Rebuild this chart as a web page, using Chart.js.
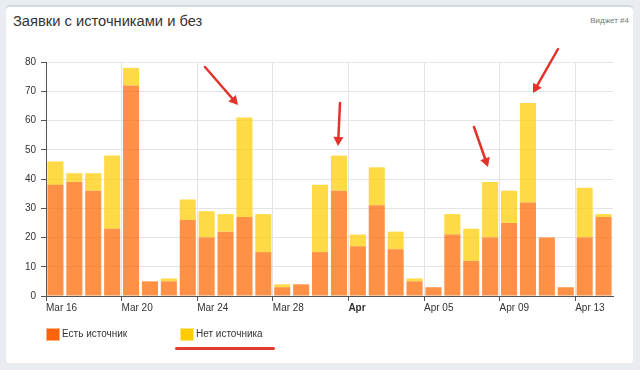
<!DOCTYPE html>
<html>
<head>
<meta charset="utf-8">
<script src="https://cdn.jsdelivr.net/npm/chart.js@4"></script>
<style>
  body { margin: 0; background: #e9edf1; font-family: "Liberation Sans", Arial, sans-serif; }
  #card { position: absolute; left: 6px; top: 7px; width: 627px; height: 356px; background: #fff;
          border-radius: 4px; box-shadow: 0 -2px 0 #d3d9e0; }
  #title { position: absolute; left: 13px; top: 13px; font-size: 14.7px; color: #333; }
  #widget { position: absolute; right: 11px; top: 16px; font-size: 8px; color: #777; }
  #chart { position: absolute; left: 0; top: 0; }
  #legend { position: absolute; left: 0; top: 0; }
  .item { position: absolute; top: 328px; font-size: 10px; color: #333; line-height: 12px; }
  .box { position: absolute; top: 0; width: 12px; height: 11px; border: 1px solid rgba(255,255,255,0.5); }
  .item span { position: absolute; left: 16px; top: 0; white-space: nowrap; }
  #underline { position: absolute; left: 175px; top: 347px; width: 100px; height: 3px;
               border-radius: 2px; background: #e33a32; }
</style>
</head>
<body>
<div id="card"></div>
<div id="title">Заявки с источниками и без</div>
<div id="widget">Виджет #4</div>
<canvas id="chart" width="640" height="370"></canvas>
<div id="legend"></div>
<div id="underline"></div>
<script>
// one bar per day, Mar 16 .. Apr 14
const days = [
  "Mar 16", "Mar 17", "Mar 18", "Mar 19", "Mar 20", "Mar 21", "Mar 22", "Mar 23",
  "Mar 24", "Mar 25", "Mar 26", "Mar 27", "Mar 28", "Mar 29", "Mar 30", "Mar 31",
  "Apr", "Apr 02", "Apr 03", "Apr 04", "Apr 05", "Apr 06", "Apr 07", "Apr 08",
  "Apr 09", "Apr 10", "Apr 11", "Apr 12", "Apr 13", "Apr 14",
];
const withSource = [38, 39, 36, 23, 72, 5, 5, 26, 20, 22, 27, 15, 3, 4, 15, 36, 17, 31, 16, 5, 3, 21, 12, 20, 25, 32, 20, 3, 20, 27];
const noSource = [8, 3, 6, 25, 6, 0, 1, 7, 9, 6, 34, 13, 1, 0, 23, 12, 4, 13, 6, 1, 0, 7, 11, 19, 11, 34, 0, 0, 17, 1];
const seriesNames = ["Есть источник", "Нет источника"];
const yTicks = [0, 10, 20, 30, 40, 50, 60, 70, 80];

const toPoints = (arr) => arr.map((v, i) => ({ x: i + 0.5, y: v }));

// red annotation arrows drawn on top
const arrows = [
  [205, 67, 238, 105],
  [340, 103, 338, 146],
  [474, 127, 488, 167],
  [558, 49, 533, 93],
];
const arrowPlugin = {
  id: "arrows",
  afterDraw(chart) {
    const c = chart.ctx;
    c.save();
    c.strokeStyle = "#e2332b";
    c.fillStyle = "#e2332b";
    c.lineWidth = 2.5;
    c.lineCap = "round";
    arrows.forEach(([x1, y1, x2, y2]) => {
      const a = Math.atan2(y2 - y1, x2 - x1);
      const hx = x2 - 9 * Math.cos(a), hy = y2 - 9 * Math.sin(a);
      c.beginPath();
      c.moveTo(x1, y1);
      c.lineTo(hx, hy);
      c.stroke();
      c.beginPath();
      c.moveTo(x2, y2);
      c.lineTo(hx + 5 * Math.sin(a), hy - 5 * Math.cos(a));
      c.lineTo(hx - 5 * Math.sin(a), hy + 5 * Math.cos(a));
      c.closePath();
      c.fill();
    });
    c.restore();
  },
};

const font = { family: "'Liberation Sans', Arial, sans-serif", size: 10 };

const chart = new Chart(document.getElementById("chart").getContext("2d"), {
  type: "bar",
  data: {
    datasets: [
      {
        label: seriesNames[0],
        data: toPoints(withSource),
        backgroundColor: "rgba(255,102,0,0.72)",
        legendColor: "#ff6309",
      },
      {
        label: seriesNames[1],
        data: toPoints(noSource),
        backgroundColor: "rgba(255,204,0,0.72)",
        legendColor: "#ffcc00",
      },
    ],
  },
  options: {
    responsive: false,
    animation: false,
    devicePixelRatio: 1,
    categoryPercentage: 1,
    barPercentage: 0.85,
    layout: { padding: { left: 0, right: 27, top: 62, bottom: 54 } },
    plugins: { legend: { display: false }, tooltip: { enabled: false } },
    scales: {
      x: {
        type: "linear",
        stacked: true,
        min: 0,
        max: days.length,
        offset: false,
        afterFit: (s) => { s.height = 20; },
        ticks: {
          stepSize: 4,
          includeBounds: false,
          autoSkip: false,
          maxRotation: 0,
          align: "start",
          padding: 1,
          color: "#333",
          font: (ctx) => ({ ...font, weight: ctx.tick && ctx.tick.value === 16 ? "bold" : "normal" }),
          callback: (v) => days[v] || "",
        },
        grid: { color: "#e4e4e4", tickColor: "#555", tickLength: 5, offset: false },
        border: { display: true, color: "#555" },
      },
      y: {
        stacked: true,
        min: yTicks[0],
        max: yTicks[yTicks.length - 1],
        afterFit: (s) => { s.width = 46; },
        ticks: { stepSize: 10, color: "#333", font: font, padding: 5 },
        grid: { color: "#e4e4e4", tickColor: "#555", tickLength: 5 },
        border: { display: true, color: "#555" },
      },
    },
  },
  plugins: [arrowPlugin],
});

// html legend built from the datasets
const legendX = [46, 180];
chart.data.datasets.forEach((ds, i) => {
  const item = document.createElement("div");
  item.className = "item";
  item.style.left = legendX[i] + "px";
  item.innerHTML = '<div class="box" style="background:' + ds.legendColor + '"></div><span>' + ds.label + "</span>";
  document.getElementById("legend").appendChild(item);
});
</script>
</body>
</html>
